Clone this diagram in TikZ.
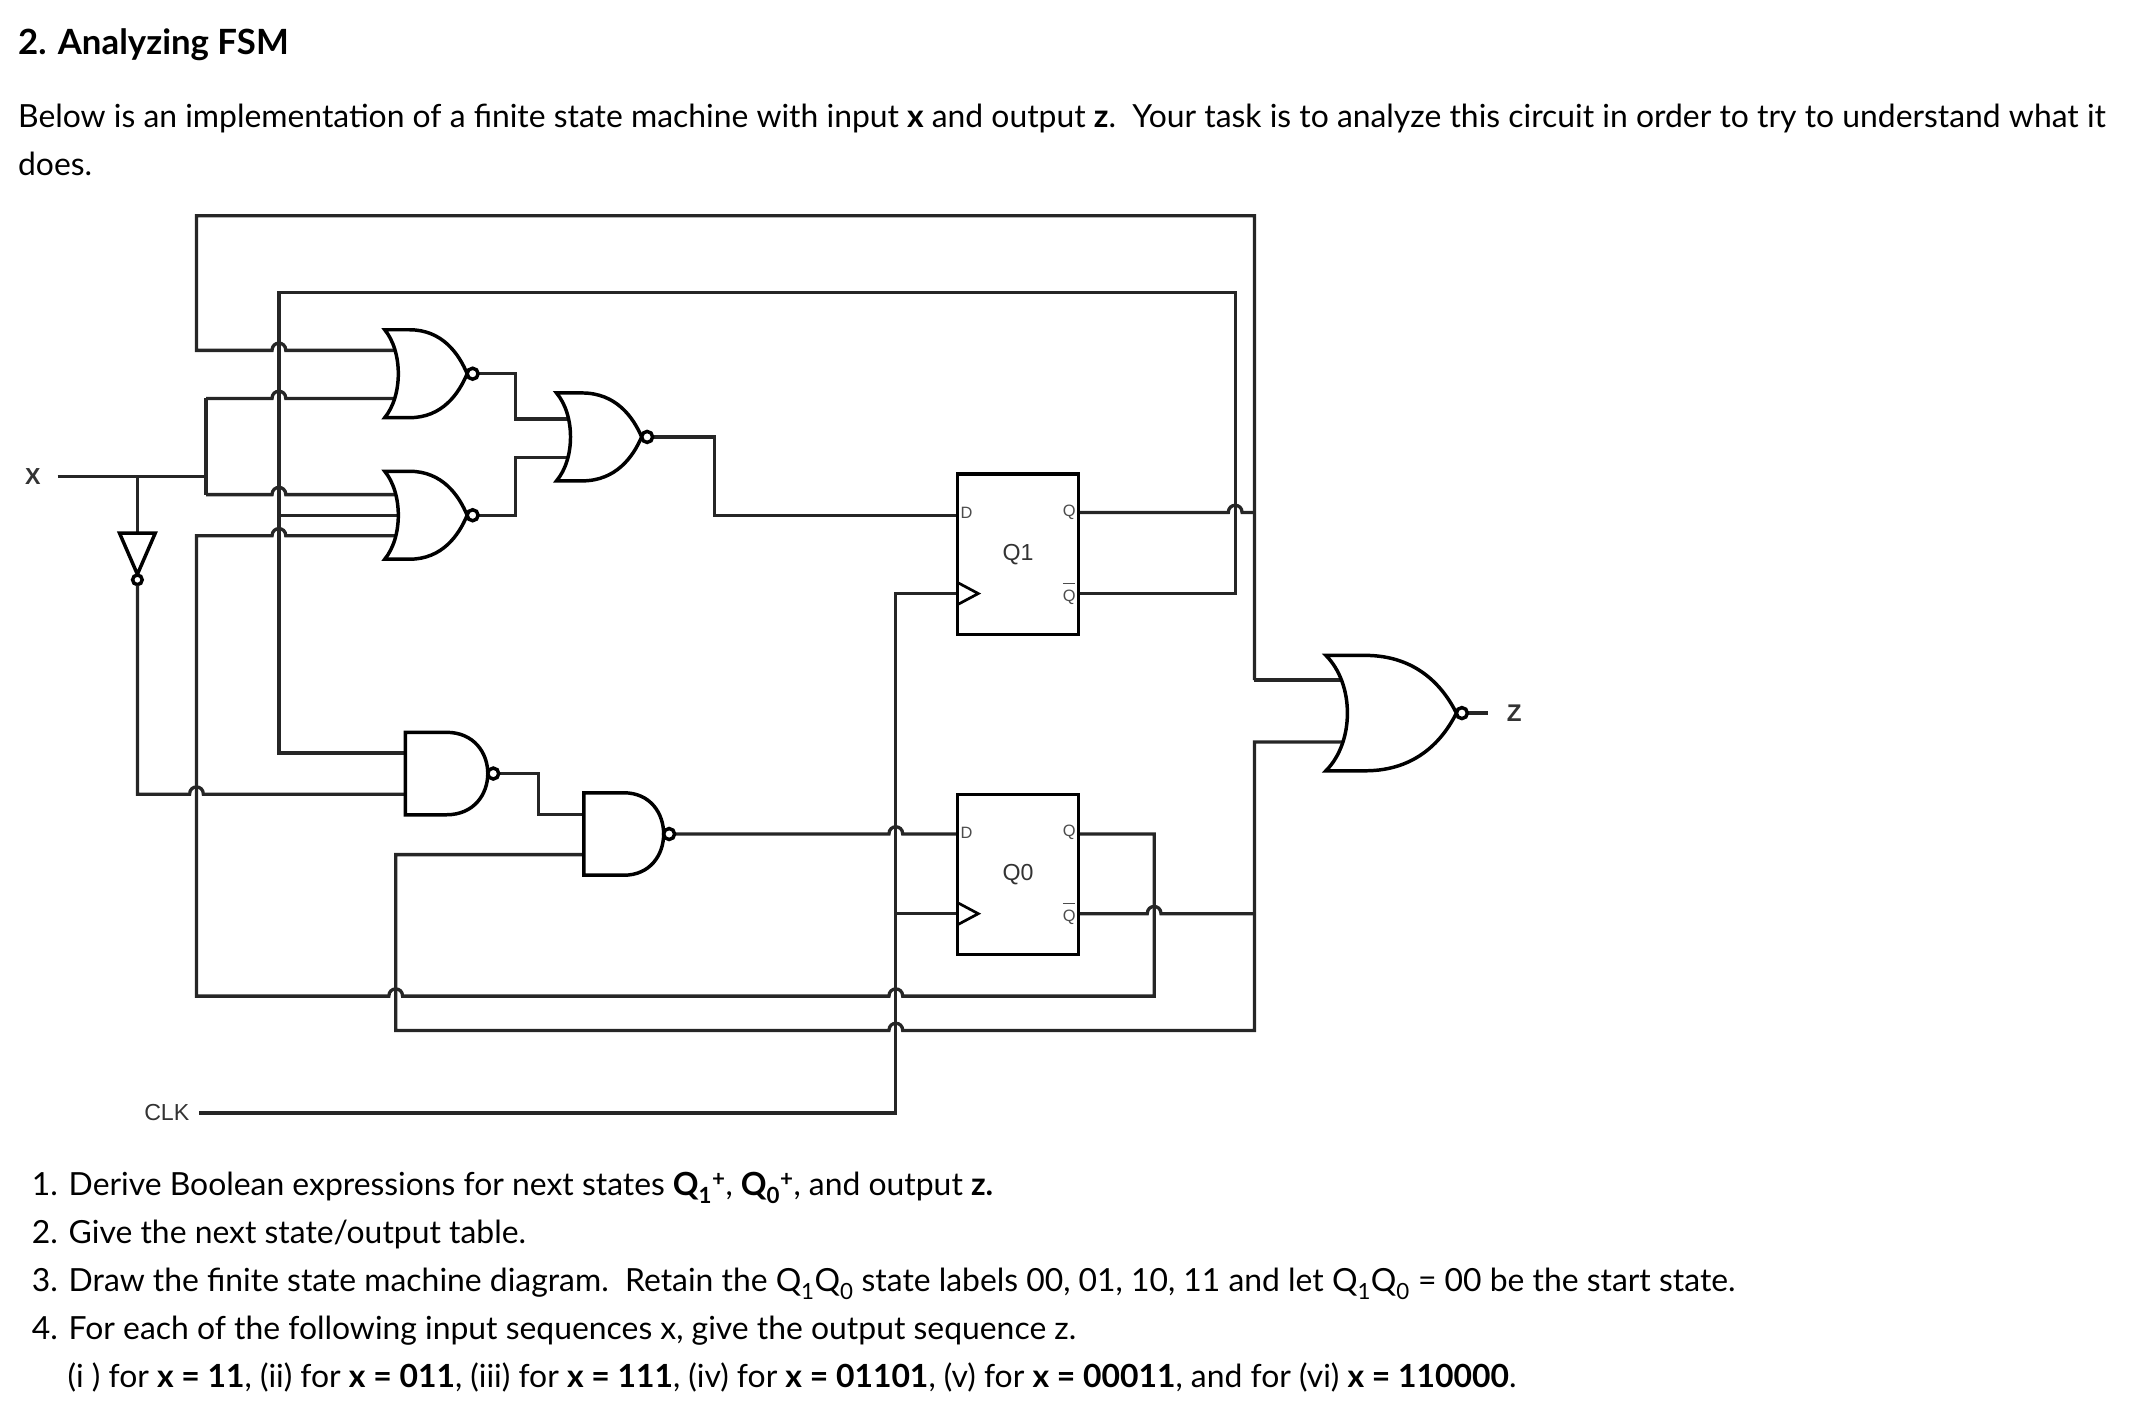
\documentclass[tikz,border=0pt]{standalone}
\usepackage{fontspec}
\setmainfont{Lato}
\newfontfamily\arial{Liberation Sans}
\begin{document}
\begin{tikzpicture}[x=0.05cm,y=-0.05cm,line width=3.4pt,
  wire/.style={draw=black!85,line width=3.4pt},
  gate/.style={draw=black,fill=white,line width=3.6pt},
  txt/.style={anchor=base west,inner sep=0,font=\fontsize{33}{38}\selectfont},
  lab/.style={inner sep=0,font=\arial\fontsize{24}{28}\selectfont,text=black!80},
  pin/.style={inner sep=0,font=\arial\fontsize{17}{20}\selectfont,text=black!70}]
\useasboundingbox (0,0) rectangle (1567,1030);
\newcommand\orgate[5]{% name, x, y, w, h
  \path[gate,shift={(#2,#3)}] (0,-#5) -- ({0.3*#4},-#5) .. controls ({0.7*#4},-#5) and ({0.9*#4},{-0.45*#5}) .. (#4,0)
   .. controls ({0.9*#4},{0.45*#5}) and ({0.7*#4},#5) .. ({0.3*#4},#5) -- (0,#5)
   .. controls ({0.22*#4},{0.5*#5}) and ({0.22*#4},{-0.5*#5}) .. cycle;
  \path[gate] ({#2+#4+4},#3) circle (4);
  \coordinate (#1) at ({#2+#4+8},#3);}
\newcommand\andgate[5]{%
  \path[gate,shift={(#2,#3)}] (0,-#5) -- ({0.5*#4},-#5) .. controls ({1.167*#4},-#5) and ({1.167*#4},#5) .. ({0.5*#4},#5) -- (0,#5) -- cycle;
  \path[gate] ({#2+#4+4},#3) circle (4);
  \coordinate (#1) at ({#2+#4+8},#3);}
\newcommand\dff[4]{% name, x, y(top), label
  \draw[line width=3.2pt] (#2,#3) rectangle ++(88,117) node[pos=0.5,lab] (#1) {#4};
  \draw[line width=2.8pt] (#2,#3+79) -- (#2+15,#3+87) -- (#2,#3+95);
  \node[pin,anchor=west] at (#2+1,#3+28) {D};
  \node[pin,anchor=east] at (#2+87,#3+28) {Q};
  \node[pin,anchor=east] at (#2+87,#3+87) {\rlap{\raisebox{1.05em}{\rule{0.75em}{0.06em}}}Q};}

% ---------- text ----------
\node[txt,font=\bfseries\fontsize{36}{42}\selectfont] (title) at (12,40) {2. Analyzing FSM};
\node[txt] (p1) at (12,93) {Below is an implementation of a finite state machine with input \textbf{x} and output \textbf{z}.\ \ Your task is to analyze this circuit in order to try to understand what it};
\node[txt] (p2) at (12,128) {does.};
\node[txt] (l1) at (22,870) {1. Derive Boolean expressions for next states \textbf{Q\textsubscript{1}\textsuperscript{+}}, \textbf{Q\textsubscript{0}\textsuperscript{+}}, and output \textbf{z.}};
\node[txt] (l2) at (22,905) {2. Give the next state/output table.};
\node[txt] (l3) at (22,940) {3. Draw the finite state machine diagram.\ \ Retain the Q\textsubscript{1}Q\textsubscript{0} state labels 00, 01, 10, 11 and let Q\textsubscript{1}Q\textsubscript{0} = 00 be the start state.};
\node[txt] (l4) at (22,975) {4. For each of the following input sequences x, give the output sequence z.};
\node[txt] (l5) at (48,1010) {(i ) for \textbf{x = 11}, (ii) for \textbf{x = 011}, (iii) for \textbf{x = 111}, (iv) for \textbf{x = 01101}, (v) for \textbf{x = 00011}, and for (vi) \textbf{x = 110000}.};

\node[lab,font=\arial\bfseries\fontsize{24}{28}\selectfont] (xin) at (24,347) {X};
\node[lab,anchor=east] (clk) at (139,810) {CLK};
\node[lab,font=\arial\bfseries\fontsize{25}{28}\selectfont] (zout) at (1102,519) {Z};

% ---------- wires ----------
\draw[wire] (785,373) -- (894,373) .. controls +(0,-7) and +(0,-7) .. (904,373) -- (913,373);
\draw[wire] (913,495) -- (913,157) -- (143,157) -- (143,255) -- (198,255) .. controls +(0,-7) and +(0,-7) .. (208,255) -- (290,255);
\draw[wire] (913,495) -- (985,495);
\draw[wire] (785,432) -- (899,432) -- (899,213) -- (203,213) -- (203,548) -- (305,548);
\draw[wire] (203,375) -- (300,375);
\draw[wire] (42,347) -- (150,347);
\draw[wire] (150,290) -- (150,360);
\draw[wire] (150,290) -- (198,290) .. controls +(0,-7) and +(0,-7) .. (208,290) -- (290,290);
\draw[wire] (150,360) -- (198,360) .. controls +(0,-7) and +(0,-7) .. (208,360) -- (300,360);
\draw[wire] (100,347) -- (100,388);
\path[gate] (87,388) -- (113,388) -- (100,418) -- cycle;
\path[gate] (100,422) circle (3.5);
\draw[wire] (100,426) -- (100,578) -- (138,578) .. controls +(0,-7) and +(0,-7) .. (148,578) -- (305,578);
\draw[wire] (785,607) -- (840,607) -- (840,725) -- (657,725) .. controls +(0,-7) and +(0,-7) .. (647,725) -- (293,725) .. controls +(0,-7) and +(0,-7) .. (283,725) -- (143,725) -- (143,390) -- (198,390) .. controls +(0,-7) and +(0,-7) .. (208,390) -- (300,390);
\draw[wire] (785,665) -- (835,665) .. controls +(0,-7) and +(0,-7) .. (845,665) -- (913,665);
\draw[wire] (985,540) -- (913,540) -- (913,750) -- (657,750) .. controls +(0,-7) and +(0,-7) .. (647,750) -- (288,750) -- (288,622) -- (435,622);
\draw[wire] (345,272) -- (375,272) -- (375,305) -- (415,305);
\draw[wire] (345,375) -- (375,375) -- (375,333) -- (415,333);
\draw[wire] (475,318) -- (520,318) -- (520,375) -- (697,375);
\draw[wire] (362,563) -- (392,563) -- (392,593) -- (435,593);
\draw[wire] (490,607) -- (647,607) .. controls +(0,-7) and +(0,-7) .. (657,607) -- (697,607);
\draw[wire] (145,810) -- (652,810) -- (652,432) -- (697,432);
\draw[wire] (652,665) -- (697,665);
\draw[wire] (1068,519) -- (1083,519);

% ---------- gates ----------
\orgate{g1}{280}{272}{60}{32}
\orgate{g2}{280}{375}{60}{32}
\orgate{g3}{405}{318}{62}{32}
\andgate{g4}{295}{563}{60}{30}
\andgate{g5}{425}{607}{58}{30}
\orgate{g6}{965}{519}{95}{42}
\dff{ff1}{697}{345}{Q1}
\dff{ff0}{697}{578}{Q0}
\end{tikzpicture}
\end{document}
